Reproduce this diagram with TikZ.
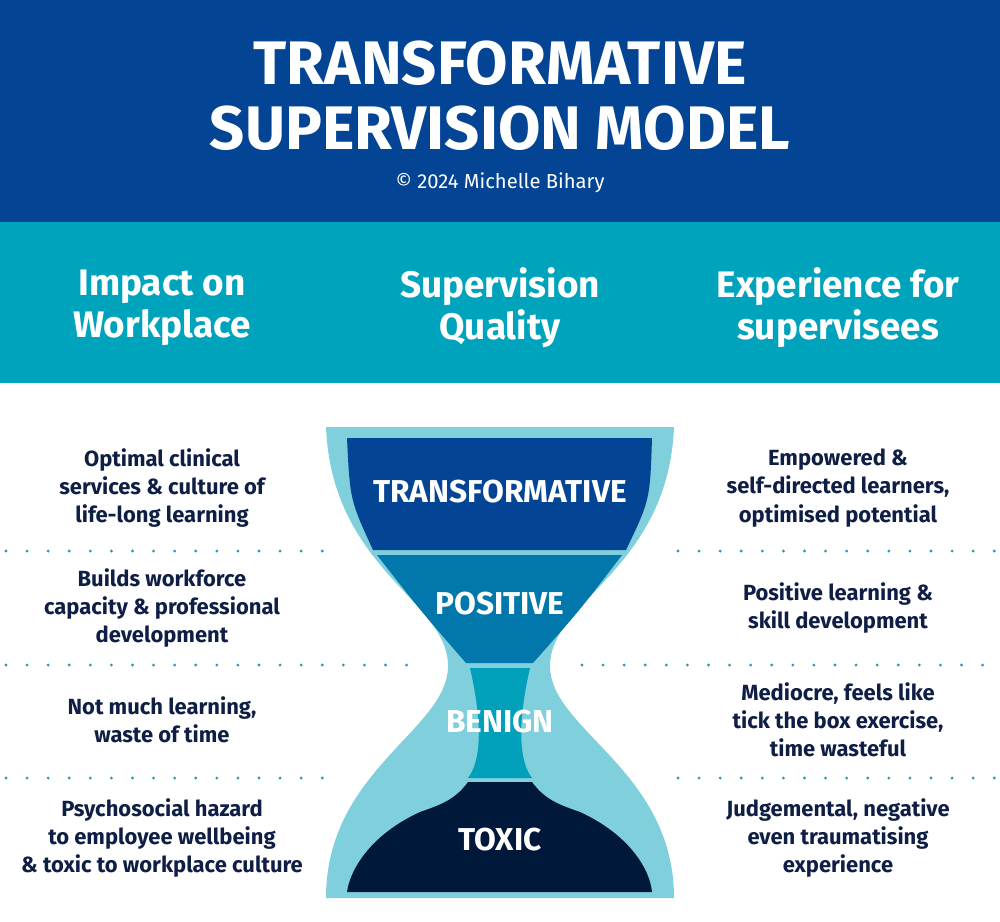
\documentclass[tikz,border=0pt]{standalone}
\usepackage{fontspec}
\setmainfont{Fira Sans}
\usetikzlibrary{positioning}
\definecolor{navy}{RGB}{4,68,148}
\definecolor{teal}{RGB}{0,163,188}
\definecolor{glass}{RGB}{128,207,220}
\definecolor{posblue}{RGB}{1,119,171}
\definecolor{benign}{RGB}{0,160,186}
\definecolor{toxic}{RGB}{0,24,58}
\definecolor{ink}{RGB}{15,30,69}
\definecolor{dots}{RGB}{42,155,181}
\tikzset{
  head/.style={text=white, align=center, font=\fontsize{21}{24}\selectfont\bfseries},
  level/.style={text=white, font=\fontsize{18}{20}\selectfont\bfseries},
  side/.style={text=ink, align=center, font=\fontsize{12.5}{16}\selectfont\bfseries},
  sep/.style={dots, line width=1.8pt, line cap=round, dash pattern=on 0pt off 12pt}
}
\begin{document}
\begin{tikzpicture}[x=0.02cm, y=-0.02cm]
    \useasboundingbox (0,0) rectangle (1000,921);
    % Banners
    \fill[navy] (0,0) rectangle (1000,222);
    \fill[teal] (0,222) rectangle (1000,383);
    \node[head, font=\fontsize{35}{37}\selectfont\bfseries] (title) at (500,96) {TRANSFORMATIVE\\SUPERVISION MODEL};
    \node[text=white, font=\fontsize{11.5}{14}\selectfont] (copy) at (500,183) {© 2024 Michelle Bihary};
    \node[head] (impact) at (162,308) {Impact on\\Workplace};
    \node[head] (quality) at (500,308) {Supervision\\Quality};
    \node[head] (experience) at (838,308) {Experience for\\supervisees};

    % Hourglass
    \fill[glass] (326,427) -- (674,427) .. controls (668,570) and (550,600) .. (550,666)
        .. controls (550,730) and (674,770) .. (674,898) -- (326,898)
        .. controls (326,770) and (448,730) .. (448,666)
        .. controls (448,600) and (332,570) .. (326,427) -- cycle;
    \fill[navy] (347,438) -- (652,438) .. controls (650,500) .. (626,550) -- (373,550) .. controls (350,500) .. cycle;
    \fill[posblue] (377,555) -- (622,555) .. controls (580,610) .. (533,663) -- (466,663) .. controls (420,610) .. cycle;
    \fill[benign] (470,668) -- (530,668) .. controls (518,720) and (518,760) .. (532,778) -- (468,778) .. controls (482,760) and (482,720) .. cycle;
    \fill[toxic] (468,782) -- (532,782) .. controls (545,800) and (560,805) .. (580,812)
        .. controls (630,835) and (650,870) .. (652,892) -- (347,892)
        .. controls (350,870) and (370,835) .. (420,812)
        .. controls (440,805) and (455,800) .. cycle;
    \node[level] (transformative) at (500,492) {TRANSFORMATIVE};
    \node[level] (positive) at (500,604) {POSITIVE};
    \node[level] (benignlvl) at (500,722) {BENIGN};
    \node[level] (toxiclvl) at (500,840) {TOXIC};

    % Separators
    \draw[sep] (6,551) -- (330,551);
    \draw[sep] (6,665) -- (420,665);
    \draw[sep] (6,778) -- (325,778);
    \draw[sep] (678,551) -- (995,551);
    \draw[sep] (582,665) -- (995,665);
    \draw[sep] (678,778) -- (995,778);

    % Left column
    \node[side] (l1) at (162,488) {Optimal clinical\\services \& culture of\\life-long learning};
    \node[side] (l2) at (162,608) {Builds workforce\\capacity \& professional\\development};
    \node[side] (l3) at (162,720) {Not much learning,\\waste of time};
    \node[side] (l4) at (162,838) {Psychosocial hazard\\to employee wellbeing\\\& toxic to workplace culture};

    % Right column
    \node[side] (r1) at (838,488) {Empowered \&\\self-directed learners,\\optimised potential};
    \node[side] (r2) at (838,608) {Positive learning \&\\skill development};
    \node[side] (r3) at (838,720) {Mediocre, feels like\\tick the box exercise,\\time wasteful};
    \node[side] (r4) at (838,838) {Judgemental, negative\\even traumatising\\experience};
\end{tikzpicture}
\end{document}
